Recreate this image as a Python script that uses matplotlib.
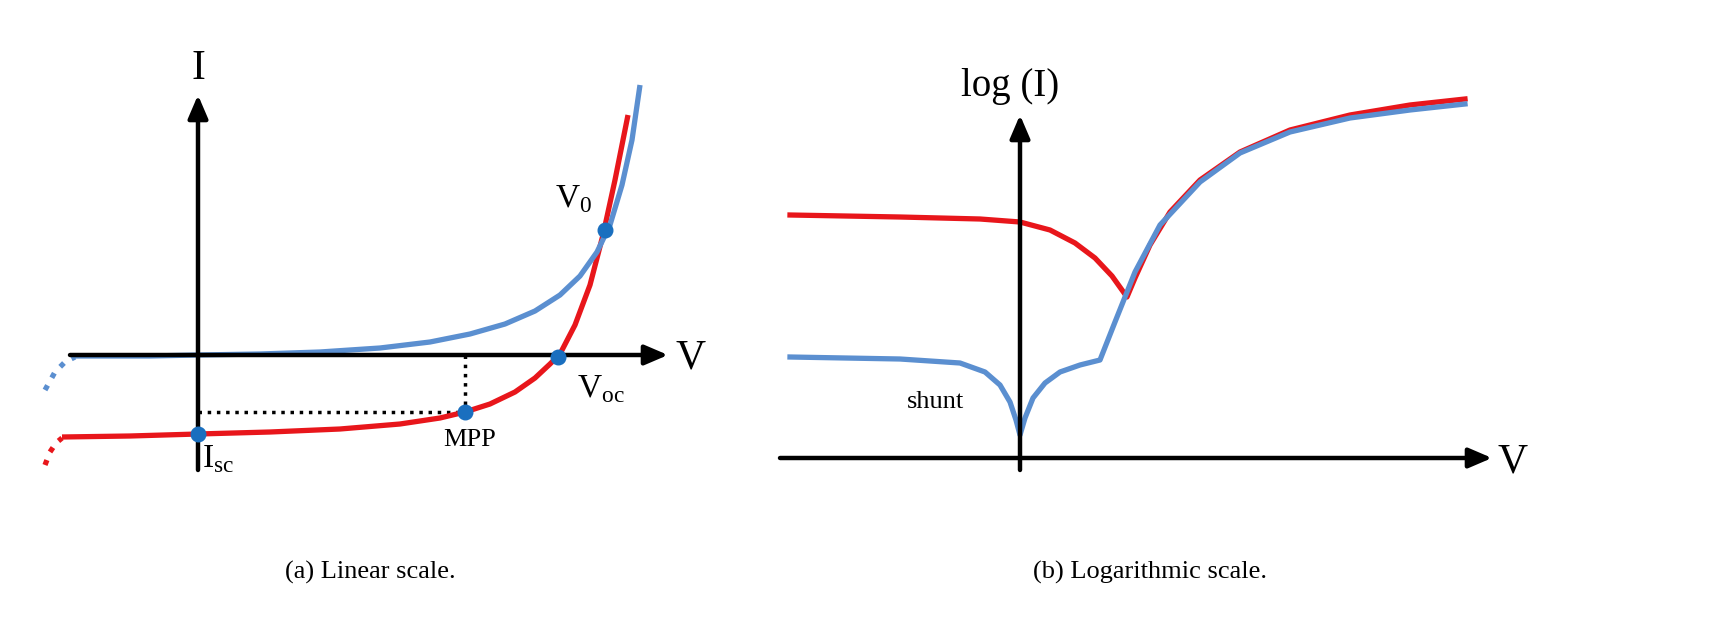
import numpy as np
import matplotlib.pyplot as plt

plt.rcParams['font.family'] = ['Liberation Serif', 'DejaVu Serif']
plt.rcParams['mathtext.fontset'] = 'custom'
plt.rcParams['mathtext.rm'] = 'Liberation Serif'

BLUE = '#5b8fd0'
RED = '#e8161b'
DOT = '#1a6fbf'

# panel (a), values (pixel-like units, y down)
a_blue_x = [75, 150, 198, 260, 320, 380, 430, 470, 505, 535, 560, 580, 597, 610, 622, 632, 640]
a_blue_y = [356, 356, 355, 354, 352, 348, 342, 334, 324, 311, 295, 276, 252, 225, 185, 140, 85]
a_blue_dot_x = [45, 55, 65, 75]
a_blue_dot_y = [390, 372, 362, 357]
a_red_x = [62, 130, 198, 270, 340, 400, 440, 465, 490, 515, 535, 550, 560, 575, 590, 603, 615, 628]
a_red_y = [437, 436, 434, 432, 429, 424, 418, 412, 404, 392, 378, 364, 354, 325, 285, 235, 180, 115]
a_red_dot_x = [45, 50, 56, 62]
a_red_dot_y = [465, 452, 443, 438]
a_pts_x = [198, 465, 558, 605]
a_pts_y = [434, 412, 357, 230]

# panel (b)
b_red_x = [790, 900, 980, 1020, 1050, 1075, 1095, 1112, 1127, 1135, 1150, 1170, 1200, 1240, 1290, 1350, 1410, 1465]
b_red_y = [215, 217, 219, 222, 230, 243, 258, 276, 297, 278, 245, 212, 180, 152, 130, 115, 105, 99]
b_blue_x = [790, 900, 960, 985, 1000, 1010, 1016, 1020, 1025, 1033, 1045, 1060, 1080, 1100,
            1115, 1135, 1160, 1200, 1240, 1290, 1350, 1410, 1465]
b_blue_y = [357, 359, 363, 372, 385, 402, 420, 435, 418, 398, 383, 372, 365, 360,
            322, 272, 225, 182, 153, 132, 118, 110, 104]

fig = plt.figure(figsize=(17.2, 6.41), dpi=100)
ax = fig.add_axes([0, 0, 1, 1])
ax.set_xlim(0, 1720)
ax.set_ylim(641, 0)
ax.axis('off')

def arrow(x0, y0, x1, y1):
    ax.annotate('', xy=(x1, y1), xytext=(x0, y0),
                arrowprops=dict(arrowstyle='-|>,head_length=1.4,head_width=0.6',
                                lw=3.2, color='black', shrinkA=0, shrinkB=0))

# panel (a)
arrow(70, 355, 668, 355)
arrow(198, 470, 198, 95)
ax.plot([198, 465], [412, 412], ':', color='black', lw=2.5)
ax.plot([465, 465], [355, 412], ':', color='black', lw=2.5)
ax.plot(a_blue_dot_x, a_blue_dot_y, ':', color=BLUE, lw=3.8)
ax.plot(a_red_dot_x, a_red_dot_y, ':', color=RED, lw=3.8)
ax.plot(a_red_x, a_red_y, color=RED, lw=3.8, solid_capstyle='butt')
ax.plot(a_blue_x, a_blue_y, color=BLUE, lw=3.8, solid_capstyle='butt')
ax.scatter(a_pts_x, a_pts_y, s=110, color=DOT, zorder=5)
ax.text(198, 88, 'I', fontsize=30, ha='center', va='bottom')
ax.text(676, 358, 'V', fontsize=30, ha='left', va='center')
ax.text(555, 215, r'V$_0$', fontsize=24, ha='left', va='bottom')
ax.text(577, 405, r'V$_{\rm oc}$', fontsize=24, ha='left', va='bottom')
ax.text(470, 440, 'MPP', fontsize=19, ha='center', va='center')
ax.text(202, 475, r'I$_{\rm sc}$', fontsize=24, ha='left', va='bottom')
ax.text(370, 572, '(a) Linear scale.', fontsize=19, ha='center', va='center')

# panel (b)
arrow(780, 458, 1492, 458)
arrow(1020, 470, 1020, 115)
ax.plot(b_red_x, b_red_y, color=RED, lw=3.8)
ax.plot(b_blue_x, b_blue_y, color=BLUE, lw=3.8)
ax.text(1010, 105, 'log (I)', fontsize=28, ha='center', va='bottom')
ax.text(1498, 462, 'V', fontsize=30, ha='left', va='center')
ax.text(935, 402, 'shunt', fontsize=19, ha='center', va='center')
ax.text(1150, 572, '(b) Logarithmic scale.', fontsize=19, ha='center', va='center')

fig.savefig('out.png', dpi=100)
